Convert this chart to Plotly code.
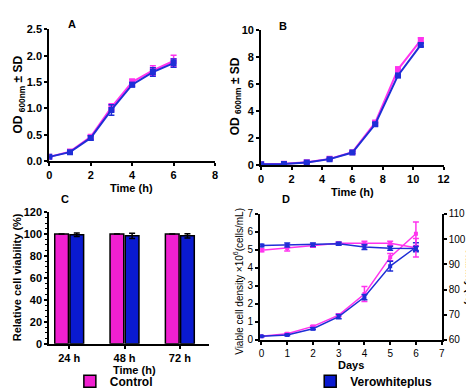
import plotly.graph_objects as go

# ---------------- data ----------------
A_time = [0, 1, 2, 3, 4, 5, 6]
A_ctrl = [0.08, 0.18, 0.46, 1.02, 1.50, 1.72, 1.90]
A_ctrl_sd = [0.01, 0.02, 0.03, 0.07, 0.06, 0.09, 0.11]
A_vero = [0.08, 0.17, 0.44, 0.97, 1.45, 1.69, 1.86]
A_vero_sd = [0.01, 0.02, 0.04, 0.10, 0.04, 0.08, 0.08]

B_time = [0, 1.5, 3, 4.5, 6, 7.5, 9, 10.5]
B_ctrl = [0.05, 0.08, 0.20, 0.45, 0.95, 3.15, 7.10, 9.28]
B_ctrl_sd = [0.02, 0.03, 0.05, 0.05, 0.08, 0.12, 0.18, 0.15]
B_vero = [0.05, 0.07, 0.18, 0.43, 0.92, 3.02, 6.65, 8.92]
B_vero_sd = [0.02, 0.03, 0.05, 0.05, 0.08, 0.12, 0.15, 0.12]

C_labels = ["24 h", "48 h", "72 h"]
C_ctrl = [100, 100, 100]
C_ctrl_sd = [0, 0, 0]
C_vero = [99.3, 98.3, 98.3]
C_vero_sd = [1.5, 2.3, 2.0]

D_days = [0, 1, 2, 3, 4, 5, 6]
D_ctrl_dens = [0.20, 0.34, 0.75, 1.38, 2.55, 4.60, 5.90]
D_ctrl_dens_sd = [0.03, 0.04, 0.05, 0.08, 0.42, 0.20, 0.65]
D_vero_dens = [0.20, 0.27, 0.62, 1.29, 2.38, 4.10, 5.15]
D_vero_dens_sd = [0.03, 0.04, 0.05, 0.12, 0.15, 0.27, 0.25]
D_ctrl_via = [95.6, 96.5, 97.4, 98.4, 98.4, 98.4, 96.6]
D_ctrl_via_sd = [0.6, 1.2, 0.6, 0.5, 0.8, 0.8, 3.7]
D_vero_via = [97.5, 97.7, 97.8, 98.2, 96.9, 96.4, 96.3]
D_vero_via_sd = [0.5, 0.8, 0.7, 0.6, 1.0, 0.8, 0.8]

PINK_L = "#ff33ee"
BLUE_L = "#1f2ed6"
PINK_B = "#f020d0"
BLUE_B = "#0a1ad0"

W, H = 474, 388
def px(x): return x / W
def py(y): return 1 - y / H

FONT = "Liberation Sans, Arial, sans-serif"

fig = go.Figure()

def line_trace(x, y, sd, color, xa, ya, msize=6, lw=2):
    return go.Scatter(
        x=x, y=y, xaxis=xa, yaxis=ya, mode="lines+markers",
        line=dict(color=color, width=lw),
        marker=dict(symbol="square", size=msize, color=color),
        error_y=dict(type="data", array=sd, color=color, thickness=1.5, width=3),
        showlegend=False, hoverinfo="skip",
    )

# Panel A
fig.add_trace(line_trace(A_time, A_ctrl, A_ctrl_sd, PINK_L, "x", "y"))
fig.add_trace(line_trace(A_time, A_vero, A_vero_sd, BLUE_L, "x", "y"))
# Panel B
fig.add_trace(line_trace(B_time, B_ctrl, B_ctrl_sd, PINK_L, "x2", "y2"))
fig.add_trace(line_trace(B_time, B_vero, B_vero_sd, BLUE_L, "x2", "y2"))
# Panel C
fig.add_trace(go.Bar(
    x=list(range(len(C_labels))), y=C_ctrl, xaxis="x3", yaxis="y3", name="Control",
    marker=dict(color=PINK_B, line=dict(color="black", width=1.5)),
    error_y=dict(type="data", array=C_ctrl_sd, color="black", thickness=1.5, width=3),
    legend="legend", hoverinfo="skip",
))
fig.add_trace(go.Bar(
    x=list(range(len(C_labels))), y=C_vero, xaxis="x3", yaxis="y3", name="Verowhiteplus",
    marker=dict(color=BLUE_B, line=dict(color="black", width=1.5)),
    error_y=dict(type="data", array=C_vero_sd, color="black", thickness=1.5, width=3),
    legend="legend2", hoverinfo="skip",
))
# Panel D
fig.add_trace(line_trace(D_days, D_ctrl_dens, D_ctrl_dens_sd, PINK_L, "x4", "y4", msize=4, lw=1.5))
fig.add_trace(line_trace(D_days, D_vero_dens, D_vero_dens_sd, BLUE_L, "x4", "y4", msize=4, lw=1.5))
fig.add_trace(line_trace(D_days, D_ctrl_via, D_ctrl_via_sd, PINK_L, "x4", "y5", msize=4, lw=1.5))
fig.add_trace(line_trace(D_days, D_vero_via, D_vero_via_sd, BLUE_L, "x4", "y5", msize=4, lw=1.5))

bold_tick = dict(family=FONT, size=11, color="black", weight="bold")
reg_tick = dict(family=FONT, size=10, color="black")
ax = dict(showline=True, linecolor="black", linewidth=2, ticks="outside", ticklen=3,
          tickwidth=2, tickcolor="black", showgrid=False, zeroline=False, fixedrange=True)

fig.update_layout(
    width=W, height=H, margin=dict(l=0, r=0, t=0, b=0),
    plot_bgcolor="white", paper_bgcolor="white",
    font=dict(family=FONT, size=11, color="black"),
    barmode="group", bargap=0.45, bargroupgap=0.1,
    xaxis=dict(ax, domain=[px(39), px(208)], range=[0, 8], dtick=2, anchor="y", tickfont=bold_tick),
    yaxis=dict(ax, domain=[py(153), py(16)], range=[0, 2.5], dtick=0.5, tickformat=".1f",
               anchor="x", tickfont=bold_tick),
    xaxis2=dict(ax, domain=[px(255), px(441)], range=[0, 12], dtick=2, anchor="y2", tickfont=bold_tick),
    yaxis2=dict(ax, domain=[py(157), py(17)], range=[0, 10], dtick=2, anchor="x2", tickfont=bold_tick),
    xaxis3=dict(ax, domain=[px(39), px(202)], range=[-0.36, 2.53], tickmode="array",
                tickvals=list(range(len(C_labels))), ticktext=C_labels, anchor="y3", tickfont=bold_tick),
    yaxis3=dict(ax, domain=[py(343), py(206)], range=[0, 120], dtick=20, anchor="x3", tickfont=bold_tick,
                minor=dict(dtick=5, ticks="outside", ticklen=2, tickwidth=1, tickcolor="black")),
    xaxis4=dict(ax, domain=[px(254), px(439)], range=[-0.05, 7], dtick=1, anchor="y4", tickfont=reg_tick),
    yaxis4=dict(ax, domain=[py(339), py(208)], range=[0, 7], dtick=1, anchor="x4", tickfont=reg_tick),
    yaxis5=dict(ax, range=[60, 110], dtick=10, anchor="x4", overlaying="y4", side="right",
                tickfont=reg_tick),
    legend=dict(x=px(60), y=py(382), xanchor="left", yanchor="middle", orientation="h",
                font=dict(family=FONT, size=12, color="black", weight="bold"),
                bgcolor="rgba(0,0,0,0)"),
    legend2=dict(x=px(305), y=py(382), xanchor="left", yanchor="middle", orientation="h",
                 font=dict(family=FONT, size=12, color="black", weight="bold"),
                 bgcolor="rgba(0,0,0,0)"),
)

def ann(text, x, y, size=11, angle=0, weight="bold"):
    fig.add_annotation(text=text, x=px(x), y=py(y), xref="paper", yref="paper",
                       showarrow=False, textangle=angle, xanchor="center", yanchor="middle",
                       borderpad=0,
                       font=dict(family=FONT, size=size, color="black", weight=weight))

# panel letters
ann("A", 62, 10)
ann("B", 277, 12)
ann("C", 55, 192)
ann("D", 280, 192)
# x titles
ann("Time (h)", 123, 181, size=11)
ann("Time (h)", 348, 185, size=11)
ann("Time (h)", 126, 370, size=11)
ann("Days", 347, 365, size=11)
# y titles
ann("OD <sub>600nm</sub> ± SD", 8, 84, size=12, angle=-90)
ann("OD <sub>600nm</sub> ± SD", 229, 86, size=12, angle=-90)
ann("Relative cell viability (%)", 7, 274, size=11, angle=-90)
ann("Viable cell density ×10<sup>6</sup>(cells/mL)", 232, 278, size=10, angle=-90, weight="normal")
ann("Viability (%)", 467, 273, size=10, angle=90)

fig.write_html("out.html")
